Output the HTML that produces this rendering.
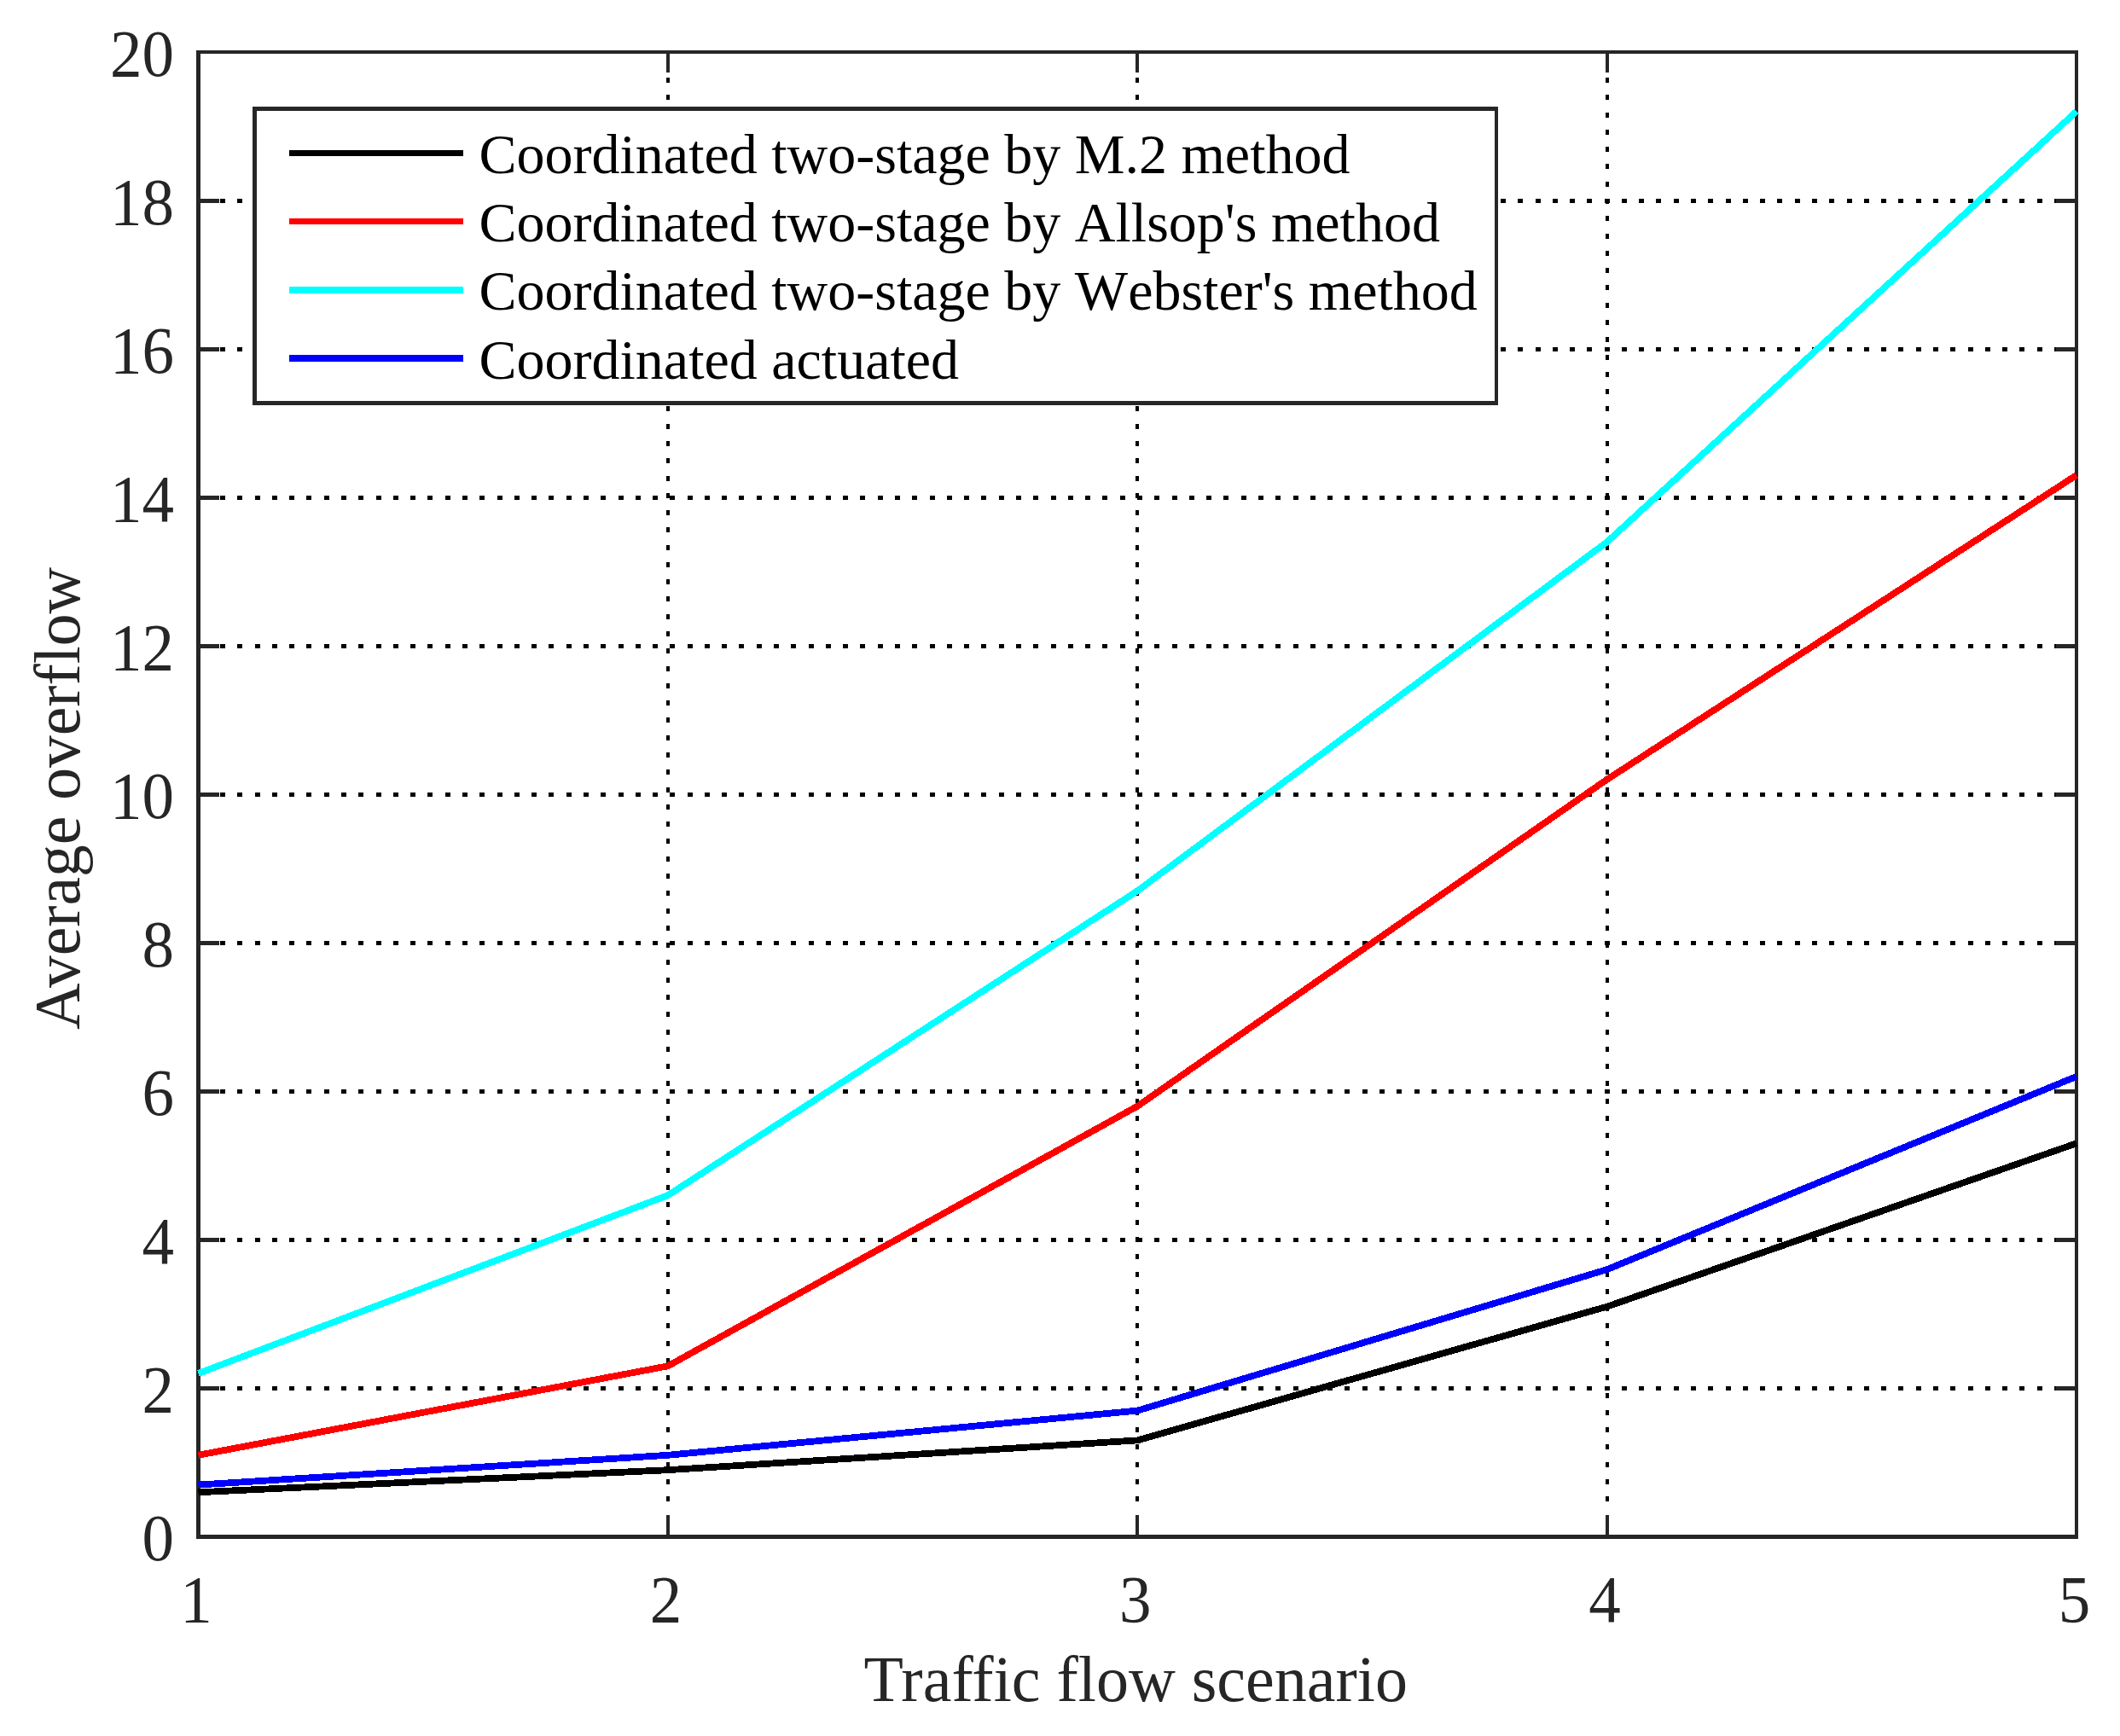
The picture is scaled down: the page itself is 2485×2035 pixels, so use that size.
<!DOCTYPE html>
<html lang="en"><head><meta charset="utf-8"><title>Average overflow vs traffic flow scenario</title>
<style>html,body{margin:0;padding:0;background:#fff}body{width:2485px;height:2035px;overflow:hidden}svg{display:block}text.k{font-kerning:normal}text{font-kerning:none;font-family:"Liberation Serif","Times New Roman",serif;font-variant-ligatures:none}</style></head><body>
<svg width="2485" height="2035" viewBox="0 0 2485 2035">
<rect x="0" y="0" width="2485" height="2035" fill="#fff"/>
<g id="grid" fill="none" stroke="#000" shape-rendering="crispEdges">
<line x1="258" y1="1627.5" x2="2410" y2="1627.5" stroke-width="5" stroke-dasharray="6 14.283"/>
<line x1="258" y1="1453.5" x2="2410" y2="1453.5" stroke-width="5" stroke-dasharray="6 14.283"/>
<line x1="258" y1="1279.5" x2="2410" y2="1279.5" stroke-width="5" stroke-dasharray="6 14.283"/>
<line x1="258" y1="1105.5" x2="2410" y2="1105.5" stroke-width="5" stroke-dasharray="6 14.283"/>
<line x1="258" y1="931.5" x2="2410" y2="931.5" stroke-width="5" stroke-dasharray="6 14.283"/>
<line x1="258" y1="757.5" x2="2410" y2="757.5" stroke-width="5" stroke-dasharray="6 14.283"/>
<line x1="258" y1="583.5" x2="2410" y2="583.5" stroke-width="5" stroke-dasharray="6 14.283"/>
<line x1="258" y1="409.5" x2="2410" y2="409.5" stroke-width="5" stroke-dasharray="6 14.283"/>
<line x1="258" y1="235.5" x2="2410" y2="235.5" stroke-width="5" stroke-dasharray="6 14.283"/>
<line x1="783" y1="91" x2="783" y2="1772" stroke-width="4" stroke-dasharray="6 14.283"/>
<line x1="1333" y1="91" x2="1333" y2="1772" stroke-width="4" stroke-dasharray="6 14.283"/>
<line x1="1884" y1="91" x2="1884" y2="1772" stroke-width="4" stroke-dasharray="6 14.283"/>
</g>
<g id="axes" fill="#262626" shape-rendering="crispEdges">
<rect x="230" y="59" width="5" height="1745"/>
<rect x="2432" y="59" width="4" height="1745"/>
<rect x="230" y="59" width="2206" height="4"/>
<rect x="230" y="1799" width="2206" height="5"/>
<rect x="235" y="1625" width="22" height="5"/>
<rect x="2410" y="1625" width="22" height="5"/>
<rect x="235" y="1451" width="22" height="5"/>
<rect x="2410" y="1451" width="22" height="5"/>
<rect x="235" y="1277" width="22" height="5"/>
<rect x="2410" y="1277" width="22" height="5"/>
<rect x="235" y="1103" width="22" height="5"/>
<rect x="2410" y="1103" width="22" height="5"/>
<rect x="235" y="929" width="22" height="5"/>
<rect x="2410" y="929" width="22" height="5"/>
<rect x="235" y="755" width="22" height="5"/>
<rect x="2410" y="755" width="22" height="5"/>
<rect x="235" y="581" width="22" height="5"/>
<rect x="2410" y="581" width="22" height="5"/>
<rect x="235" y="407" width="22" height="5"/>
<rect x="2410" y="407" width="22" height="5"/>
<rect x="235" y="233" width="22" height="5"/>
<rect x="2410" y="233" width="22" height="5"/>
<rect x="781" y="63" width="4" height="22"/>
<rect x="781" y="1776" width="4" height="23"/>
<rect x="1331" y="63" width="4" height="22"/>
<rect x="1331" y="1776" width="4" height="23"/>
<rect x="1882" y="63" width="4" height="22"/>
<rect x="1882" y="1776" width="4" height="23"/>
</g>
<g id="series" fill="none" stroke-width="7.8" stroke-linejoin="miter" stroke-linecap="butt" shape-rendering="crispEdges">
<polyline stroke="#000000" points="232.5,1749.3 782.9,1723.2 1333.2,1688.4 1883.6,1531.7 2434.0,1340.3"/>
<polyline stroke="#ff0000" points="232.5,1705.8 782.9,1601.3 1333.2,1296.8 1883.6,913.8 2434.0,557.0"/>
<polyline stroke="#00ffff" points="232.5,1610.0 782.9,1401.2 1333.2,1044.4 1883.6,635.4 2434.0,130.6"/>
<polyline stroke="#0000ff" points="232.5,1740.6 782.9,1705.8 1333.2,1653.6 1883.6,1488.2 2434.0,1261.9"/>
</g>
<g id="legend" shape-rendering="crispEdges">
<rect x="296" y="125" width="1460" height="350" fill="#262626"/>
<rect x="301" y="130" width="1451" height="340" fill="#fff"/>
<rect x="339" y="176" width="204" height="7" fill="#000000"/>
<rect x="339" y="256" width="204" height="7" fill="#ff0000"/>
<rect x="339" y="336" width="204" height="8" fill="#00ffff"/>
<rect x="339" y="416" width="204" height="8" fill="#0000ff"/>
</g>
<g id="legendtext" font-size="66" fill="#000">
<text x="561.5" y="202.6">Coordinated two-stage by M.2 method</text>
<text x="561.5" y="283.0">Coordinated two-stage by Allsop's method</text>
<text x="561.5" y="363.4">Coordinated two-stage by Webster's method</text>
<text x="561.5" y="443.6">Coordinated actuated</text>
</g>
<g id="yticks" font-size="75" fill="#262626" text-anchor="end">
<text transform="translate(204 1829.0) scale(1 1.05)">0</text>
<text transform="translate(204 1655.0) scale(1 1.05)">2</text>
<text transform="translate(204 1480.9) scale(1 1.05)">4</text>
<text transform="translate(204 1306.8) scale(1 1.05)">6</text>
<text transform="translate(204 1132.8) scale(1 1.05)">8</text>
<text transform="translate(204 958.8) scale(1 1.05)">10</text>
<text transform="translate(204 784.7) scale(1 1.05)">12</text>
<text transform="translate(204 610.7) scale(1 1.05)">14</text>
<text transform="translate(204 436.6) scale(1 1.05)">16</text>
<text transform="translate(204 262.5) scale(1 1.05)">18</text>
<text transform="translate(204 88.5) scale(1 1.05)">20</text>
</g>
<g id="xticks" font-size="75" fill="#262626" text-anchor="middle">
<text transform="translate(230.0 1901) scale(1 1.05)">1</text>
<text transform="translate(780.4 1901) scale(1 1.05)">2</text>
<text transform="translate(1330.8 1901) scale(1 1.05)">3</text>
<text transform="translate(1881.1 1901) scale(1 1.05)">4</text>
<text transform="translate(2431.5 1901) scale(1 1.05)">5</text>
</g>
<g id="labels" font-size="76" fill="#262626" text-anchor="middle">
<text class="k" x="1331.3" y="1993.8">Traffic flow scenario</text>
<text class="k" transform="translate(92.7 936) rotate(-90)" x="0" y="0" font-size="75.6">Average overflow</text>
</g>
</svg></body></html>
